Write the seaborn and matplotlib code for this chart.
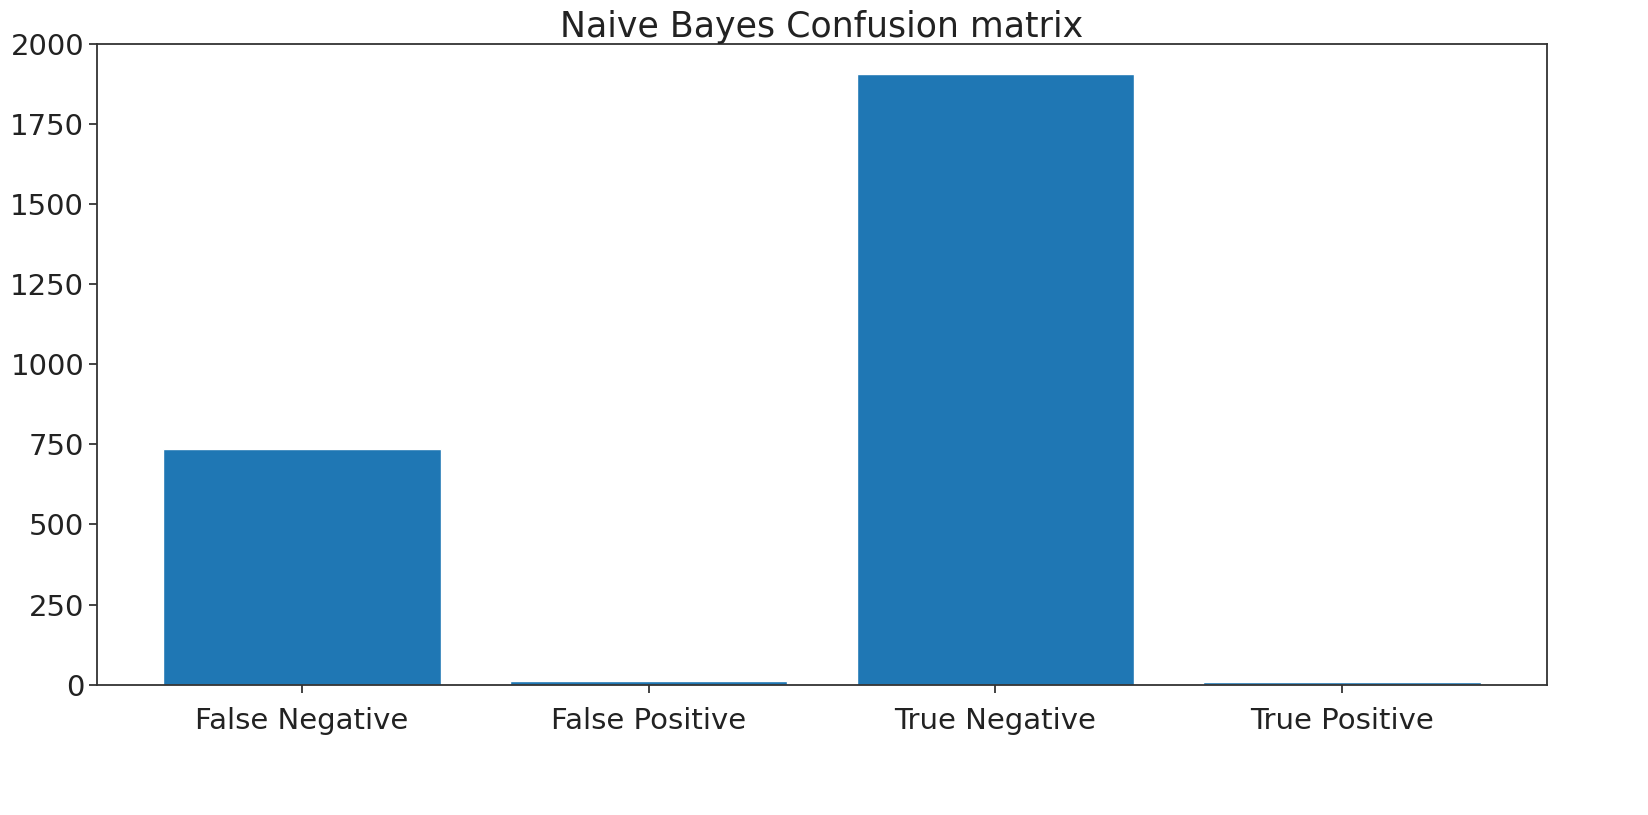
import matplotlib
matplotlib.use("Agg")
import matplotlib.pyplot as plt
import seaborn as sns
import pandas as pd

# =======================
# Datos
# =======================
categorias = ["False Negative", "False Positive", "True Negative", "True Positive"]
conteos = [735, 10, 1905, 8]

df = pd.DataFrame({"tipo": categorias, "n": conteos})

sns.set_theme(style="ticks")
plt.rcParams["font.family"] = ["DejaVu Sans"]

fig = plt.figure(figsize=(16.49, 8.15), dpi=100)
ax = fig.add_axes([0.059, 0.16, 0.879, 0.786])

sns.barplot(data=df, x="tipo", y="n", color="#1f77b4", saturation=1,
            width=0.8, ax=ax, errorbar=None)

ax.set_xlim(-0.59, 3.59)
ax.set_ylim(0, 2000)
ax.set_yticks([0, 250, 500, 750, 1000, 1250, 1500, 1750, 2000])
ax.set_xlabel("")
ax.set_ylabel("")
ax.set_title("Naive Bayes Confusion matrix", fontsize=25, color="#222222", pad=5)
ax.tick_params(axis="both", labelsize=21, length=6, width=1.2, colors="#222222")
ax.tick_params(axis="x", pad=10)
for s in ax.spines.values():
    s.set_linewidth(1.3)
    s.set_color("#333333")

fig.savefig("out.png", dpi=100)
